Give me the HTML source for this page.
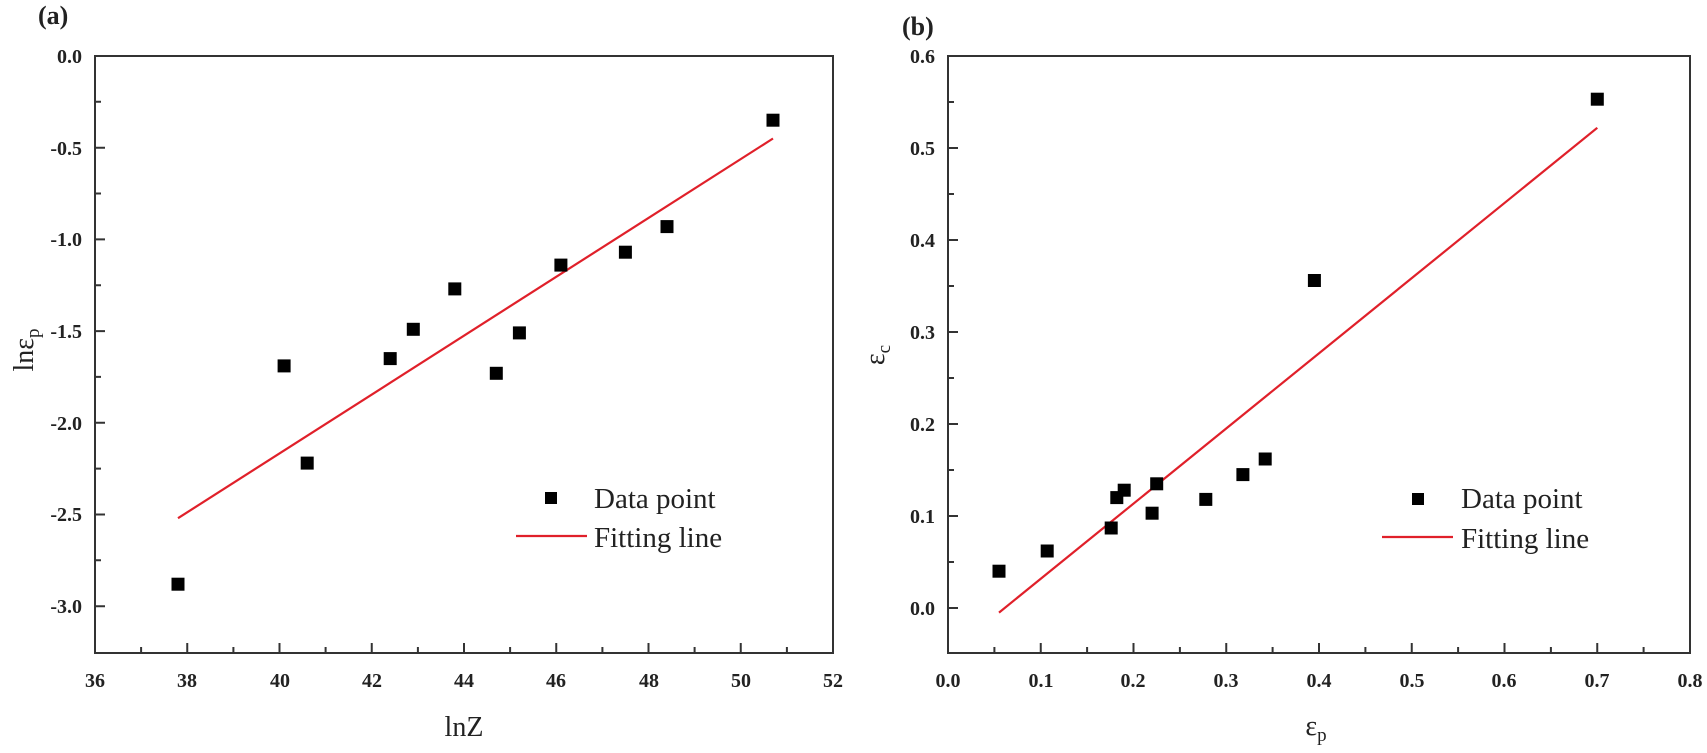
<!DOCTYPE html>
<html><head><meta charset="utf-8"><style>
html,body{margin:0;padding:0;background:#fff;}
svg{display:block;}
.t{font-family:"Liberation Serif",serif;font-weight:bold;font-size:20px;fill:#222;}
.l{font-family:"Liberation Serif",serif;font-size:28px;fill:#222;}
</style></head><body>
<svg width="1707" height="753" viewBox="0 0 1707 753" xmlns="http://www.w3.org/2000/svg">
<rect width="1707" height="753" fill="#fff"/>
<text x="38" y="24" class="t" style="font-size:26px">(a)</text>
<text x="902" y="35" class="t" style="font-size:26px">(b)</text>

<!-- Left panel -->
<rect x="95" y="56" width="738" height="597" fill="none" stroke="#333" stroke-width="2"/>
<g stroke="#333" stroke-width="2">
<path d="M95 56h10M95 147.7h10M95 239.4h10M95 331.1h10M95 422.8h10M95 514.5h10M95 606.2h10"/>
<path d="M95 101.8h6M95 193.5h6M95 285.2h6M95 376.9h6M95 468.6h6M95 560.3h6"/>
<path d="M187.25 653v-10M279.5 653v-10M371.75 653v-10M464 653v-10M556.25 653v-10M648.5 653v-10M740.75 653v-10"/>
<path d="M141.1 653v-6M233.4 653v-6M325.6 653v-6M417.9 653v-6M510.1 653v-6M602.4 653v-6M694.6 653v-6M786.9 653v-6"/>
</g>
<g class="t" text-anchor="end">
<text x="82" y="63">0.0</text><text x="82" y="155">-0.5</text><text x="82" y="246">-1.0</text>
<text x="82" y="338">-1.5</text><text x="82" y="430">-2.0</text><text x="82" y="521">-2.5</text><text x="82" y="613">-3.0</text>
</g>
<g class="t" text-anchor="middle">
<text x="95" y="687">36</text><text x="187" y="687">38</text><text x="280" y="687">40</text><text x="372" y="687">42</text>
<text x="464" y="687">44</text><text x="556" y="687">46</text><text x="649" y="687">48</text><text x="741" y="687">50</text><text x="833" y="687">52</text>
</g>
<text x="464" y="736" class="l" text-anchor="middle">lnZ</text>
<text transform="translate(33,350) rotate(-90)" class="l" text-anchor="middle">lnε<tspan font-size="19" dy="6">p</tspan></text>
<line x1="178" y1="518.2" x2="773" y2="138.5" stroke="#e0202a" stroke-width="2.2"/>
<g fill="#000">
<rect x="171.5" y="577.7" width="13" height="13"/><rect x="277.6" y="359.4" width="13" height="13"/>
<rect x="300.7" y="456.6" width="13" height="13"/><rect x="383.7" y="352.1" width="13" height="13"/>
<rect x="406.8" y="322.8" width="13" height="13"/><rect x="448.3" y="282.4" width="13" height="13"/>
<rect x="489.8" y="366.8" width="13" height="13"/><rect x="512.9" y="326.4" width="13" height="13"/>
<rect x="554.4" y="258.6" width="13" height="13"/><rect x="618.9" y="245.7" width="13" height="13"/>
<rect x="660.5" y="220.1" width="13" height="13"/><rect x="766.5" y="113.7" width="13" height="13"/>
</g>
<rect x="545" y="492" width="12" height="12" fill="#000"/>
<text x="594" y="508" class="l" style="font-size:29px">Data point</text>
<line x1="516" y1="536" x2="587" y2="536" stroke="#e0202a" stroke-width="2.2"/>
<text x="594" y="547" class="l" style="font-size:29px">Fitting line</text>

<!-- Right panel -->
<rect x="948" y="56" width="742" height="597" fill="none" stroke="#333" stroke-width="2"/>
<g stroke="#333" stroke-width="2">
<path d="M948 56h10M948 148h10M948 240h10M948 332h10M948 424h10M948 516h10M948 608h10"/>
<path d="M948 102h6M948 194h6M948 286h6M948 378h6M948 470h6M948 562h6"/>
<path d="M1040.75 653v-10M1133.5 653v-10M1226.25 653v-10M1319 653v-10M1411.75 653v-10M1504.5 653v-10M1597.25 653v-10"/>
<path d="M994.4 653v-6M1087.1 653v-6M1179.9 653v-6M1272.6 653v-6M1365.4 653v-6M1458.1 653v-6M1550.9 653v-6M1643.6 653v-6"/>
</g>
<g class="t" text-anchor="end">
<text x="935" y="63">0.6</text><text x="935" y="155">0.5</text><text x="935" y="247">0.4</text>
<text x="935" y="339">0.3</text><text x="935" y="431">0.2</text><text x="935" y="523">0.1</text><text x="935" y="615">0.0</text>
</g>
<g class="t" text-anchor="middle">
<text x="948" y="687">0.0</text><text x="1041" y="687">0.1</text><text x="1133" y="687">0.2</text><text x="1226" y="687">0.3</text>
<text x="1319" y="687">0.4</text><text x="1412" y="687">0.5</text><text x="1504" y="687">0.6</text><text x="1597" y="687">0.7</text><text x="1690" y="687">0.8</text>
</g>
<text x="1316" y="735" class="l" text-anchor="middle">ε<tspan font-size="19" dy="6">p</tspan></text>
<text transform="translate(884,355) rotate(-90)" class="l" text-anchor="middle">ε<tspan font-size="19" dy="6">c</tspan></text>
<line x1="999" y1="612.6" x2="1597.3" y2="127.8" stroke="#e0202a" stroke-width="2.2"/>
<g fill="#000">
<rect x="992.5" y="564.7" width="13" height="13"/><rect x="1040.7" y="544.5" width="13" height="13"/>
<rect x="1104.7" y="521.5" width="13" height="13"/><rect x="1110.3" y="491.1" width="13" height="13"/>
<rect x="1117.7" y="483.7" width="13" height="13"/><rect x="1145.6" y="506.7" width="13" height="13"/>
<rect x="1150.2" y="477.3" width="13" height="13"/><rect x="1199.3" y="492.9" width="13" height="13"/>
<rect x="1236.4" y="468.1" width="13" height="13"/><rect x="1258.7" y="452.5" width="13" height="13"/>
<rect x="1307.9" y="274" width="13" height="13"/><rect x="1590.8" y="92.7" width="13" height="13"/>
</g>
<rect x="1412" y="493" width="12" height="12" fill="#000"/>
<text x="1461" y="508" class="l" style="font-size:29px">Data point</text>
<line x1="1382" y1="537" x2="1453" y2="537" stroke="#e0202a" stroke-width="2.2"/>
<text x="1461" y="548" class="l" style="font-size:29px">Fitting line</text>
</svg>
</body></html>
